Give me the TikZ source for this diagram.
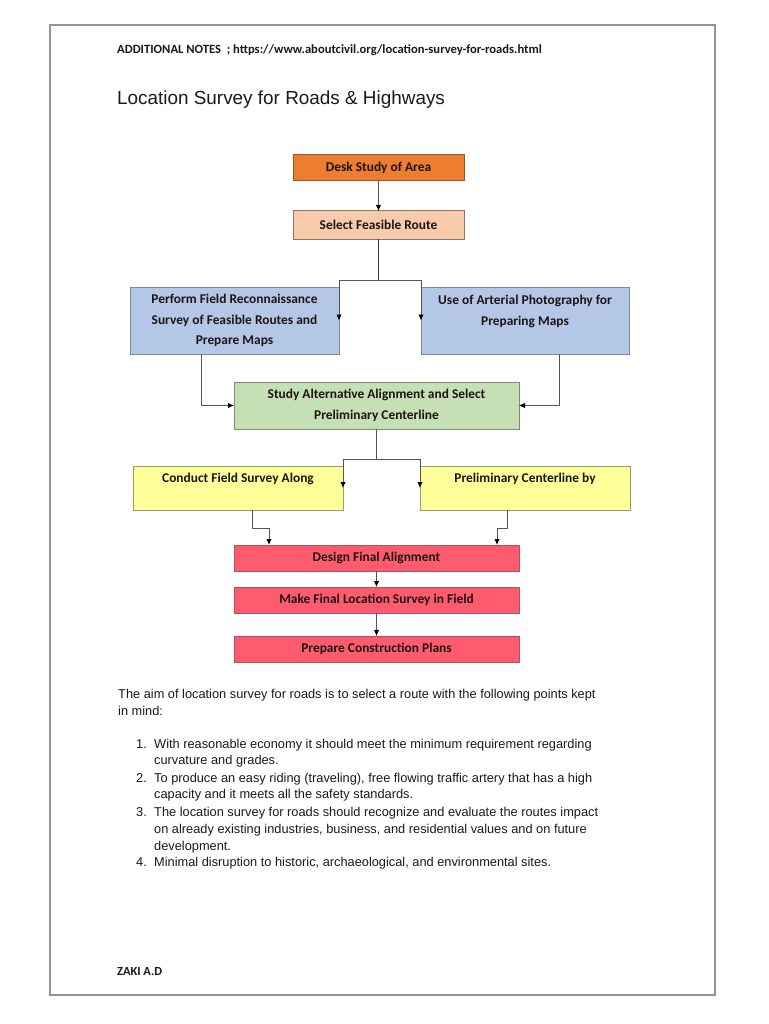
\documentclass[tikz,border=0pt]{standalone}
\usepackage{fontspec}
\setmainfont{Liberation Sans}
\newfontfamily\calfont{Carlito}
\usetikzlibrary{arrows.meta,calc}
\definecolor{orF}{HTML}{ED7D31}\definecolor{orD}{HTML}{9C5224}
\definecolor{peF}{HTML}{F8CBAD}\definecolor{peD}{HTML}{8A7466}
\definecolor{blF}{HTML}{B4C7E7}\definecolor{blD}{HTML}{7D8998}
\definecolor{grF}{HTML}{C5E0B4}\definecolor{grD}{HTML}{7E8C77}
\definecolor{yeF}{HTML}{FFFF99}\definecolor{yeD}{HTML}{9A9A72}
\definecolor{reF}{HTML}{FF5B6F}\definecolor{reD}{HTML}{A85560}
\definecolor{lnC}{HTML}{555555}
\definecolor{txC}{HTML}{1E1414}
\definecolor{bodyC}{HTML}{1A1A1A}
\begin{document}
\begin{tikzpicture}[x=1pt,y=-1pt,
  flowbox/.style={rectangle,inner sep=0pt,outer sep=0pt,line width=1pt,align=center,text=txC,
    font=\calfont\bfseries\fontsize{13.4}{20.5}\selectfont},
  conn/.style={draw=lnC,line width=0.9pt},
  arr/.style={conn,-{Latex[length=6pt,width=5.5pt,color=black]}},
  bodytext/.style={anchor=west,inner sep=0pt,text=bodyC,font=\fontsize{12.8}{14}\selectfont,text height=9pt,text depth=3pt}]
\useasboundingbox (0,0) rectangle (768,1024);
\fill[white] (0,0) rectangle (768,1024);
\draw[draw=gray!85,line width=1.5pt] (50,25) rectangle (715,995);

\node[anchor=west,inner sep=0pt,font=\calfont\bfseries\fontsize{12.6}{14}\selectfont,text=bodyC] (hdr) at (117,50)
  {ADDITIONAL NOTES\ \ ; https://www.aboutcivil.org/location-survey-for-roads.html};
\node[anchor=west,inner sep=0pt,font=\fontsize{18.9}{20}\selectfont,text=bodyC] (title) at (117,100)
  {Location Survey for Roads \& Highways};

\node[flowbox,fill=orF,draw=orD,minimum width=171,minimum height=26] (desk) at (378.5,168) {Desk Study of Area};
\node[flowbox,fill=peF,draw=peD,minimum width=171,minimum height=28] (sel) at (378.5,225) {Select Feasible Route};
\node[flowbox,fill=blF,draw=blD,minimum width=209,minimum height=67] (fld) at (234.5,320.5)
  {Perform Field Reconnaissance\\Survey of Feasible Routes and\\Prepare Maps};
\node[flowbox,fill=blF,draw=blD,minimum width=208,minimum height=67] (aer) at (525,320.5)
  {Use of Arterial Photography for\\Preparing Maps\\\mbox{}};
\node[flowbox,fill=grF,draw=grD,minimum width=285,minimum height=47] (alt) at (376.5,405.5)
  {Study Alternative Alignment and Select\\Preliminary Centerline};
\node[flowbox,fill=yeF,draw=yeD,minimum width=210,minimum height=44] (cfs) at (238,488)
  {Conduct Field Survey Along\\\mbox{}};
\node[flowbox,fill=yeF,draw=yeD,minimum width=210,minimum height=44] (pcb) at (525,488)
  {Preliminary Centerline by\\\mbox{}};
\node[flowbox,fill=reF,draw=reD,minimum width=285,minimum height=26] (dfa) at (376.5,558) {Design Final Alignment};
\node[flowbox,fill=reF,draw=reD,minimum width=285,minimum height=26] (mfl) at (376.5,600) {Make Final Location Survey in Field};
\node[flowbox,fill=reF,draw=reD,minimum width=285,minimum height=26] (pcp) at (376.5,649) {Prepare Construction Plans};

\draw[arr] (desk.south) -- (sel.north);
\path (sel.south) ++(0,41) coordinate (j1);
\draw[conn,draw=black!80,line width=1.4pt] (sel.south) -- (j1);
\draw[arr] (j1) -| (fld.east);
\draw[arr] (j1) -| (aer.west);
\draw[arr] ([xshift=-33.5pt]fld.south) |- (alt.west);
\draw[arr] ([xshift=34pt]aer.south) |- (alt.east);
\path (alt.south) ++(0,30) coordinate (j2);
\draw[conn] (alt.south) -- (j2);
\draw[arr] (j2) -| (cfs.east);
\draw[arr] (j2) -| (pcb.west);
\draw[arr] ([xshift=14pt]cfs.south) -- ++(0,18) -| ([xshift=-107.5pt]dfa.north);
\draw[arr] ([xshift=-18pt]pcb.south) -- ++(0,18) -| ([xshift=120.5pt]dfa.north);
\draw[arr] (dfa.south) -- (mfl.north);
\draw[arr] (mfl.south) -- (pcp.north);

\node[bodytext] (p1) at (118,695) {The aim of location survey for roads is to select a route with the following points kept};
\node[bodytext] (p2) at (118,712) {in mind:};
\node[bodytext] (n1) at (136,745) {1.};
\node[bodytext] (i1a) at (154,745) {With reasonable economy it should meet the minimum requirement regarding};
\node[bodytext] (i1b) at (154,761) {curvature and grades.};
\node[bodytext] (n2) at (136,779) {2.};
\node[bodytext] (i2a) at (154,779) {To produce an easy riding (traveling), free flowing traffic artery that has a high};
\node[bodytext] (i2b) at (154,795) {capacity and it meets all the safety standards.};
\node[bodytext] (n3) at (136,813) {3.};
\node[bodytext] (i3a) at (154,813) {The location survey for roads should recognize and evaluate the routes impact};
\node[bodytext] (i3b) at (154,830) {on already existing industries, business, and residential values and on future};
\node[bodytext] (i3c) at (154,847) {development.};
\node[bodytext] (n4) at (136,863) {4.};
\node[bodytext] (i4a) at (154,863) {Minimal disruption to historic, archaeological, and environmental sites.};

\node[anchor=west,inner sep=0pt,font=\calfont\bfseries\fontsize{12.4}{12}\selectfont,text=bodyC] (ftr) at (117,972) {ZAKI A.D};
\end{tikzpicture}
\end{document}
